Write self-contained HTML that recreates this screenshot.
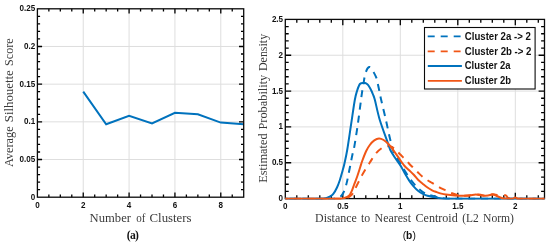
<!DOCTYPE html>
<html lang="en"><head><meta charset="utf-8"><title>Cluster analysis figure</title>
<style>html,body{margin:0;padding:0;background:#fff}body{width:550px;height:245px;overflow:hidden}svg{display:block}.tk{font-family:"Liberation Sans", "DejaVu Sans", sans-serif;font-weight:700;font-size:8.6px;fill:#111}.lb{font-family:"Liberation Serif", "DejaVu Serif", serif;font-size:11.5px;fill:#3a3a3a}.lg{font-family:"Liberation Sans", "DejaVu Sans", sans-serif;font-weight:700;font-size:10.5px;fill:#111}.cap{font-family:"Liberation Serif", "DejaVu Serif", serif;font-size:11.6px;fill:#111}.capb{font-family:"Liberation Sans", "DejaVu Sans", sans-serif;font-size:10.3px;fill:#111}</style></head><body>
<svg width="550" height="245" viewBox="0 0 550 245">
<rect width="550" height="245" fill="#fff"/>
<line x1="83.24" y1="8.8" x2="83.24" y2="197.2" stroke="#dedede" stroke-width="1"/>
<line x1="129.09" y1="8.8" x2="129.09" y2="197.2" stroke="#dedede" stroke-width="1"/>
<line x1="174.93" y1="8.8" x2="174.93" y2="197.2" stroke="#dedede" stroke-width="1"/>
<line x1="220.78" y1="8.8" x2="220.78" y2="197.2" stroke="#dedede" stroke-width="1"/>
<line x1="37.4" y1="159.52" x2="243.7" y2="159.52" stroke="#dedede" stroke-width="1"/>
<line x1="37.4" y1="121.84" x2="243.7" y2="121.84" stroke="#dedede" stroke-width="1"/>
<line x1="37.4" y1="84.16" x2="243.7" y2="84.16" stroke="#dedede" stroke-width="1"/>
<line x1="37.4" y1="46.48" x2="243.7" y2="46.48" stroke="#dedede" stroke-width="1"/>
<path d="M83.24 91.7L106.17 124.25L129.09 115.81L152.01 123.35L174.93 112.8L197.86 114.3L220.78 122.59L243.7 124.25" fill="none" stroke="#0072bd" stroke-width="2" stroke-linejoin="miter"/>
<path d="M48.86 197.2v-2.7M48.86 8.8v2.7M60.32 197.2v-2.7M60.32 8.8v2.7M71.78 197.2v-2.7M71.78 8.8v2.7M83.24 197.2v-4.7M83.24 8.8v4.7M94.71 197.2v-2.7M94.71 8.8v2.7M106.17 197.2v-2.7M106.17 8.8v2.7M117.63 197.2v-2.7M117.63 8.8v2.7M129.09 197.2v-4.7M129.09 8.8v4.7M140.55 197.2v-2.7M140.55 8.8v2.7M152.01 197.2v-2.7M152.01 8.8v2.7M163.47 197.2v-2.7M163.47 8.8v2.7M174.93 197.2v-4.7M174.93 8.8v4.7M186.39 197.2v-2.7M186.39 8.8v2.7M197.86 197.2v-2.7M197.86 8.8v2.7M209.32 197.2v-2.7M209.32 8.8v2.7M220.78 197.2v-4.7M220.78 8.8v4.7M232.24 197.2v-2.7M232.24 8.8v2.7M37.4 189.66h2.7M243.7 189.66h-2.7M37.4 182.13h2.7M243.7 182.13h-2.7M37.4 174.59h2.7M243.7 174.59h-2.7M37.4 167.06h2.7M243.7 167.06h-2.7M37.4 159.52h4.7M243.7 159.52h-4.7M37.4 151.98h2.7M243.7 151.98h-2.7M37.4 144.45h2.7M243.7 144.45h-2.7M37.4 136.91h2.7M243.7 136.91h-2.7M37.4 129.38h2.7M243.7 129.38h-2.7M37.4 121.84h4.7M243.7 121.84h-4.7M37.4 114.3h2.7M243.7 114.3h-2.7M37.4 106.77h2.7M243.7 106.77h-2.7M37.4 99.23h2.7M243.7 99.23h-2.7M37.4 91.7h2.7M243.7 91.7h-2.7M37.4 84.16h4.7M243.7 84.16h-4.7M37.4 76.62h2.7M243.7 76.62h-2.7M37.4 69.09h2.7M243.7 69.09h-2.7M37.4 61.55h2.7M243.7 61.55h-2.7M37.4 54.02h2.7M243.7 54.02h-2.7M37.4 46.48h4.7M243.7 46.48h-4.7M37.4 38.94h2.7M243.7 38.94h-2.7M37.4 31.41h2.7M243.7 31.41h-2.7M37.4 23.87h2.7M243.7 23.87h-2.7M37.4 16.34h2.7M243.7 16.34h-2.7" stroke="#000" stroke-width="1.3" fill="none"/>
<rect x="37.4" y="8.8" width="206.3" height="188.4" fill="none" stroke="#0a0a0a" stroke-width="1.3"/>
<text class="tk" transform="translate(35.2,199.7) scale(0.94,1)" text-anchor="end">0</text>
<text class="tk" transform="translate(35.2,162.02) scale(0.94,1)" text-anchor="end">0.05</text>
<text class="tk" transform="translate(35.2,124.34) scale(0.94,1)" text-anchor="end">0.1</text>
<text class="tk" transform="translate(35.2,86.66) scale(0.94,1)" text-anchor="end">0.15</text>
<text class="tk" transform="translate(35.2,48.98) scale(0.94,1)" text-anchor="end">0.2</text>
<text class="tk" transform="translate(35.2,11.3) scale(0.94,1)" text-anchor="end">0.25</text>
<text class="tk" transform="translate(37.4,208.1) scale(0.94,1)" text-anchor="middle">0</text>
<text class="tk" transform="translate(83.24,208.1) scale(0.94,1)" text-anchor="middle">2</text>
<text class="tk" transform="translate(129.09,208.1) scale(0.94,1)" text-anchor="middle">4</text>
<text class="tk" transform="translate(174.93,208.1) scale(0.94,1)" text-anchor="middle">6</text>
<text class="tk" transform="translate(220.78,208.1) scale(0.94,1)" text-anchor="middle">8</text>
<text class="lb" style="font-size:12.2px" x="89.6" y="221.5" textLength="41.4" lengthAdjust="spacingAndGlyphs">Number</text>
<text class="lb" style="font-size:12.2px" x="136.2" y="221.5" textLength="9.2" lengthAdjust="spacingAndGlyphs">of</text>
<text class="lb" style="font-size:12.2px" x="149.5" y="221.5" textLength="42.1" lengthAdjust="spacingAndGlyphs">Clusters</text>
<text class="lb" style="font-size:12.2px" transform="translate(13,167.1) rotate(-90)" textLength="40.7" lengthAdjust="spacingAndGlyphs">Average</text>
<text class="lb" style="font-size:12.2px" transform="translate(13,122.2) rotate(-90)" textLength="52" lengthAdjust="spacingAndGlyphs">Silhouette</text>
<text class="lb" style="font-size:12.2px" transform="translate(13,65.9) rotate(-90)" textLength="27.4" lengthAdjust="spacingAndGlyphs">Score</text>
<text class="cap" x="126.8" y="238.8" font-weight="700" letter-spacing="-0.7">(a)</text>
<line x1="342.8" y1="19.4" x2="342.8" y2="198.6" stroke="#dedede" stroke-width="1"/>
<line x1="400.3" y1="19.4" x2="400.3" y2="198.6" stroke="#dedede" stroke-width="1"/>
<line x1="457.8" y1="19.4" x2="457.8" y2="198.6" stroke="#dedede" stroke-width="1"/>
<line x1="515.3" y1="19.4" x2="515.3" y2="198.6" stroke="#dedede" stroke-width="1"/>
<line x1="285.3" y1="162.76" x2="544.5" y2="162.76" stroke="#dedede" stroke-width="1"/>
<line x1="285.3" y1="126.92" x2="544.5" y2="126.92" stroke="#dedede" stroke-width="1"/>
<line x1="285.3" y1="91.08" x2="544.5" y2="91.08" stroke="#dedede" stroke-width="1"/>
<line x1="285.3" y1="55.24" x2="544.5" y2="55.24" stroke="#dedede" stroke-width="1"/>
<clipPath id="c2"><rect x="284.7" y="19.4" width="260.4" height="180.2"/></clipPath>
<path d="M296.8 198.6v-3.4M296.8 19.4v3.4M308.3 198.6v-3.4M308.3 19.4v3.4M319.8 198.6v-3.4M319.8 19.4v3.4M331.3 198.6v-3.4M331.3 19.4v3.4M342.8 198.6v-5.9M342.8 19.4v5.9M354.3 198.6v-3.4M354.3 19.4v3.4M365.8 198.6v-3.4M365.8 19.4v3.4M377.3 198.6v-3.4M377.3 19.4v3.4M388.8 198.6v-3.4M388.8 19.4v3.4M400.3 198.6v-5.9M400.3 19.4v5.9M411.8 198.6v-3.4M411.8 19.4v3.4M423.3 198.6v-3.4M423.3 19.4v3.4M434.8 198.6v-3.4M434.8 19.4v3.4M446.3 198.6v-3.4M446.3 19.4v3.4M457.8 198.6v-5.9M457.8 19.4v5.9M469.3 198.6v-3.4M469.3 19.4v3.4M480.8 198.6v-3.4M480.8 19.4v3.4M492.3 198.6v-3.4M492.3 19.4v3.4M503.8 198.6v-3.4M503.8 19.4v3.4M515.3 198.6v-5.9M515.3 19.4v5.9M526.8 198.6v-3.4M526.8 19.4v3.4M538.3 198.6v-3.4M538.3 19.4v3.4M285.3 191.43h3.4M544.5 191.43h-3.4M285.3 184.26h3.4M544.5 184.26h-3.4M285.3 177.1h3.4M544.5 177.1h-3.4M285.3 169.93h3.4M544.5 169.93h-3.4M285.3 162.76h5.9M544.5 162.76h-5.9M285.3 155.59h3.4M544.5 155.59h-3.4M285.3 148.42h3.4M544.5 148.42h-3.4M285.3 141.26h3.4M544.5 141.26h-3.4M285.3 134.09h3.4M544.5 134.09h-3.4M285.3 126.92h5.9M544.5 126.92h-5.9M285.3 119.75h3.4M544.5 119.75h-3.4M285.3 112.58h3.4M544.5 112.58h-3.4M285.3 105.42h3.4M544.5 105.42h-3.4M285.3 98.25h3.4M544.5 98.25h-3.4M285.3 91.08h5.9M544.5 91.08h-5.9M285.3 83.91h3.4M544.5 83.91h-3.4M285.3 76.74h3.4M544.5 76.74h-3.4M285.3 69.58h3.4M544.5 69.58h-3.4M285.3 62.41h3.4M544.5 62.41h-3.4M285.3 55.24h5.9M544.5 55.24h-5.9M285.3 48.07h3.4M544.5 48.07h-3.4M285.3 40.9h3.4M544.5 40.9h-3.4M285.3 33.74h3.4M544.5 33.74h-3.4M285.3 26.57h3.4M544.5 26.57h-3.4" stroke="#000" stroke-width="1.3" fill="none"/>
<rect x="285.3" y="19.4" width="259.2" height="179.2" fill="none" stroke="#0a0a0a" stroke-width="1.3"/>
<g clip-path="url(#c2)" fill="none" stroke-width="2" stroke-linejoin="miter">
<path d="M285.3 198.7C291.08 198.7 312.22 198.7 320 198.7C327.78 198.7 329.25 198.8 332 198.7C334.75 198.6 335.13 198.4 336.5 198.1C337.87 197.8 339.05 197.8 340.2 196.9C341.35 196 342.53 194.27 343.4 192.7C344.27 191.13 344.8 189.35 345.4 187.5C346 185.65 346.4 184.22 347 181.6C347.6 178.98 348.38 174.85 349 171.8C349.62 168.75 350.13 166.15 350.7 163.3C351.27 160.45 351.78 157.57 352.4 154.7C353.02 151.83 353.52 151.05 354.4 146.1C355.28 141.15 356.6 132.68 357.7 125C358.8 117.32 360.28 105.4 361 100C361.72 94.6 361.57 95.43 362 92.6C362.43 89.77 363.2 85.43 363.6 83C364 80.57 364.12 79.5 364.4 78C364.68 76.5 364.95 75.25 365.3 74C365.65 72.75 366.07 71.5 366.5 70.5C366.93 69.5 367.4 68.57 367.9 68C368.4 67.43 368.9 67.03 369.5 67.1C370.1 67.17 370.82 67.57 371.5 68.4C372.18 69.23 372.78 70.52 373.6 72.1C374.42 73.68 375.68 75.87 376.4 77.9C377.12 79.93 377.42 82.17 377.9 84.3C378.38 86.43 378.75 88.08 379.3 90.7C379.85 93.32 380.1 95.12 381.2 100C382.3 104.88 384.5 113.83 385.9 120C387.3 126.17 388.52 132.33 389.6 137C390.68 141.67 391.58 145.17 392.4 148C393.22 150.83 393.17 151.47 394.5 154C395.83 156.53 398.72 160.43 400.4 163.2C402.08 165.97 403.13 168.23 404.6 170.6C406.07 172.97 407.67 175.23 409.2 177.4C410.73 179.57 412.28 181.77 413.8 183.6C415.32 185.43 416.78 186.98 418.3 188.4C419.82 189.82 421.37 191.08 422.9 192.1C424.43 193.12 425.2 193.7 427.5 194.5C429.8 195.3 433.45 196.2 436.7 196.9C439.95 197.6 441.45 198.4 447 198.7C452.55 199 453.75 198.7 470 198.7C486.25 198.7 532.08 198.7 544.5 198.7" stroke="#0072bd" stroke-dasharray="7 5.8" stroke-dashoffset="8.5"/>
<path d="M285.3 198.7C293.08 198.7 322.55 198.7 332 198.7C341.45 198.7 339.5 198.82 342 198.7C344.5 198.58 345.38 198.63 347 198C348.62 197.37 350.47 196.18 351.7 194.9C352.93 193.62 353.33 192.3 354.4 190.3C355.47 188.3 356.87 185.35 358.1 182.9C359.33 180.45 360.57 177.88 361.8 175.6C363.03 173.32 364.28 171.18 365.5 169.2C366.72 167.22 368.15 165.17 369.1 163.7C370.05 162.23 370.03 162.17 371.2 160.4C372.37 158.63 374.27 155.2 376.1 153.1C377.93 151 380.47 148.92 382.2 147.8C383.93 146.68 385.07 146.62 386.5 146.4C387.93 146.18 389.3 145.97 390.8 146.5C392.3 147.03 393.87 148.22 395.5 149.6C397.13 150.98 398.73 152.92 400.6 154.8C402.47 156.68 405.27 159.42 406.7 160.9C408.13 162.38 408.02 162.47 409.2 163.7C410.38 164.93 412.28 166.78 413.8 168.3C415.32 169.82 416.78 171.35 418.3 172.8C419.82 174.25 421.37 175.77 422.9 177C424.43 178.23 425.97 179.22 427.5 180.2C429.03 181.18 430.57 181.98 432.1 182.9C433.63 183.82 435.17 184.78 436.7 185.7C438.23 186.62 439.77 187.6 441.3 188.4C442.83 189.2 444.37 189.78 445.9 190.5C447.43 191.22 448.98 192.07 450.5 192.7C452.02 193.33 453.7 193.88 455 194.3C456.3 194.72 456.8 194.97 458.3 195.2C459.8 195.43 462.05 195.68 464 195.7C465.95 195.72 467.78 195.55 470 195.3C472.22 195.05 474.97 194.17 477.3 194.2C479.63 194.23 481.43 195.5 484 195.5C486.57 195.5 490.37 194.22 492.7 194.2C495.03 194.18 495.87 195.22 498 195.4C500.13 195.58 503.83 194.87 505.5 195.3C507.17 195.73 506.83 197.43 508 198C509.17 198.57 511.28 198.8 512.5 198.7C513.72 198.6 514.38 197.4 515.3 197.4C516.22 197.4 515.55 198.48 518 198.7C520.45 198.92 525.58 198.7 530 198.7C534.42 198.7 542.08 198.7 544.5 198.7" stroke="#f15616" stroke-dasharray="7.2 6.2" stroke-dashoffset="4.7"/>
<path d="M285.3 198.7C289.42 198.7 303.88 198.7 310 198.7C316.12 198.7 319.33 198.78 322 198.7C324.67 198.62 324.72 198.53 326 198.2C327.28 197.87 328.48 197.42 329.7 196.7C330.92 195.98 332.08 195.43 333.3 193.9C334.52 192.37 335.92 189.78 337 187.5C338.08 185.22 338.88 182.95 339.8 180.2C340.72 177.45 341.73 173.75 342.5 171C343.27 168.25 343.62 167.2 344.4 163.7C345.18 160.2 346.1 156.45 347.2 150C348.3 143.55 349.73 133.33 351 125C352.27 116.67 353.78 105.72 354.8 100C355.82 94.28 356.45 92.98 357.1 90.7C357.75 88.42 358.23 87.42 358.7 86.3C359.17 85.18 359.48 84.52 359.9 84C360.32 83.48 360.68 83.37 361.2 83.2C361.72 83.03 362.33 83.03 363 83C363.67 82.97 364.53 82.83 365.2 83C365.87 83.17 366.4 83.5 367 84C367.6 84.5 368.07 84.88 368.8 86C369.53 87.12 370.7 89.28 371.4 90.7C372.1 92.12 372.42 92.95 373 94.5C373.58 96.05 373.77 95.75 374.9 100C376.03 104.25 377.55 112.58 379.8 120C382.05 127.42 386.65 139.5 388.4 144.5C390.15 149.5 389.28 147.92 390.3 150C391.32 152.08 392.82 154.43 394.5 157C396.18 159.57 398.72 162.73 400.4 165.4C402.08 168.07 403.13 170.47 404.6 173C406.07 175.53 407.67 178.33 409.2 180.6C410.73 182.87 412.28 184.87 413.8 186.6C415.32 188.33 416.78 189.78 418.3 191C419.82 192.22 421.37 193.1 422.9 193.9C424.43 194.7 425.2 195.18 427.5 195.8C429.8 196.42 433.62 197.12 436.7 197.6C439.78 198.08 440.45 198.52 446 198.7C451.55 198.88 453.58 198.7 470 198.7C486.42 198.7 532.08 198.7 544.5 198.7" stroke="#0072bd"/>
<path d="M285.3 198.7C292.75 198.7 320.88 198.7 330 198.7C339.12 198.7 337.58 198.82 340 198.7C342.42 198.58 343 198.48 344.5 198C346 197.52 347.8 196.93 349 195.8C350.2 194.67 350.8 193.18 351.7 191.2C352.6 189.22 353.48 186.35 354.4 183.9C355.32 181.45 356.23 179.27 357.2 176.5C358.17 173.73 359.37 169.88 360.2 167.3C361.03 164.72 361.2 163.72 362.2 161C363.2 158.28 364.93 153.67 366.2 151C367.47 148.33 368.45 146.77 369.8 145C371.15 143.23 372.77 141.48 374.3 140.4C375.83 139.32 377.45 138.57 379 138.5C380.55 138.43 382 139.03 383.6 140C385.2 140.97 386.78 142.33 388.6 144.3C390.42 146.27 392.53 149.12 394.5 151.8C396.47 154.48 398.72 158.03 400.4 160.4C402.08 162.77 403.13 164.35 404.6 166C406.07 167.65 407.67 168.83 409.2 170.3C410.73 171.77 412.28 173.18 413.8 174.8C415.32 176.42 416.78 178.48 418.3 180C419.82 181.52 421.37 182.65 422.9 183.9C424.43 185.15 425.97 186.43 427.5 187.5C429.03 188.57 430.57 189.53 432.1 190.3C433.63 191.07 435.17 191.55 436.7 192.1C438.23 192.65 439.77 193.2 441.3 193.6C442.83 194 443.62 194.2 445.9 194.5C448.18 194.8 451.95 195.2 455 195.4C458.05 195.6 461.7 195.68 464.2 195.7C466.7 195.72 468.05 195.68 470 195.5C471.95 195.32 473.9 194.58 475.9 194.6C477.9 194.62 479.98 195.47 482 195.6C484.02 195.73 486.17 195.57 488 195.4C489.83 195.23 491.42 194.45 493 194.6C494.58 194.75 495.92 195.7 497.5 196.3C499.08 196.9 500.75 197.8 502.5 198.2C504.25 198.6 506.33 198.62 508 198.7C509.67 198.78 511.28 198.92 512.5 198.7C513.72 198.48 514.38 197.4 515.3 197.4C516.22 197.4 515.55 198.48 518 198.7C520.45 198.92 525.58 198.7 530 198.7C534.42 198.7 542.08 198.7 544.5 198.7" stroke="#f15616"/>
</g>
<text class="tk" transform="translate(283.1,201.1) scale(0.94,1)" text-anchor="end">0</text>
<text class="tk" transform="translate(283.1,165.26) scale(0.94,1)" text-anchor="end">0.5</text>
<text class="tk" transform="translate(283.1,129.42) scale(0.94,1)" text-anchor="end">1</text>
<text class="tk" transform="translate(283.1,93.58) scale(0.94,1)" text-anchor="end">1.5</text>
<text class="tk" transform="translate(283.1,57.74) scale(0.94,1)" text-anchor="end">2</text>
<text class="tk" transform="translate(283.1,21.9) scale(0.94,1)" text-anchor="end">2.5</text>
<text class="tk" transform="translate(285.3,209.4) scale(0.94,1)" text-anchor="middle">0</text>
<text class="tk" transform="translate(342.8,209.4) scale(0.94,1)" text-anchor="middle">0.5</text>
<text class="tk" transform="translate(400.3,209.4) scale(0.94,1)" text-anchor="middle">1</text>
<text class="tk" transform="translate(457.8,209.4) scale(0.94,1)" text-anchor="middle">1.5</text>
<text class="tk" transform="translate(515.3,209.4) scale(0.94,1)" text-anchor="middle">2</text>
<text class="lb" style="font-size:11.5px" x="315" y="221.6" textLength="41.8" lengthAdjust="spacingAndGlyphs">Distance</text>
<text class="lb" style="font-size:11.5px" x="361" y="221.6" textLength="9.2" lengthAdjust="spacingAndGlyphs">to</text>
<text class="lb" style="font-size:11.5px" x="374.6" y="221.6" textLength="36.4" lengthAdjust="spacingAndGlyphs">Nearest</text>
<text class="lb" style="font-size:11.5px" x="415.5" y="221.6" textLength="42.2" lengthAdjust="spacingAndGlyphs">Centroid</text>
<text class="lb" style="font-size:11.5px" x="462.2" y="221.6" textLength="16.5" lengthAdjust="spacingAndGlyphs">(L2</text>
<text class="lb" style="font-size:11.5px" x="483" y="221.6" textLength="31" lengthAdjust="spacingAndGlyphs">Norm)</text>
<text class="lb" style="font-size:11.5px" transform="translate(266.6,182.8) rotate(-90)" textLength="49.5" lengthAdjust="spacingAndGlyphs">Estimated</text>
<text class="lb" style="font-size:11.5px" transform="translate(266.6,129.5) rotate(-90)" textLength="54.8" lengthAdjust="spacingAndGlyphs">Probability</text>
<text class="lb" style="font-size:11.5px" transform="translate(266.6,71) rotate(-90)" textLength="37.1" lengthAdjust="spacingAndGlyphs">Density</text>
<text class="capb" x="402.7" y="238.9" textLength="13.1" lengthAdjust="spacingAndGlyphs">(<tspan font-weight="700">b</tspan>)</text>
<rect x="424.5" y="27.5" width="110.6" height="61.5" fill="#fff" stroke="#0a0a0a" stroke-width="1.1"/>
<line x1="427.7" y1="36.4" x2="460.6" y2="36.4" stroke="#0072bd" stroke-width="1.8" stroke-dasharray="7 6"/>
<text class="lg" x="464.8" y="39.7" textLength="66" lengthAdjust="spacingAndGlyphs">Cluster 2a -&gt; 2</text>
<line x1="427.7" y1="51.3" x2="460.6" y2="51.3" stroke="#f15616" stroke-width="1.8" stroke-dasharray="7 6"/>
<text class="lg" x="464.8" y="54.6" textLength="66.6" lengthAdjust="spacingAndGlyphs">Cluster 2b -&gt; 2</text>
<line x1="427.8" y1="66" x2="461.9" y2="66" stroke="#0072bd" stroke-width="1.8"/>
<text class="lg" x="464.8" y="69.3" textLength="45.7" lengthAdjust="spacingAndGlyphs">Cluster 2a</text>
<line x1="427.8" y1="80.9" x2="461.9" y2="80.9" stroke="#f15616" stroke-width="1.8"/>
<text class="lg" x="464.8" y="84.2" textLength="46.3" lengthAdjust="spacingAndGlyphs">Cluster 2b</text>
</svg></body></html>
